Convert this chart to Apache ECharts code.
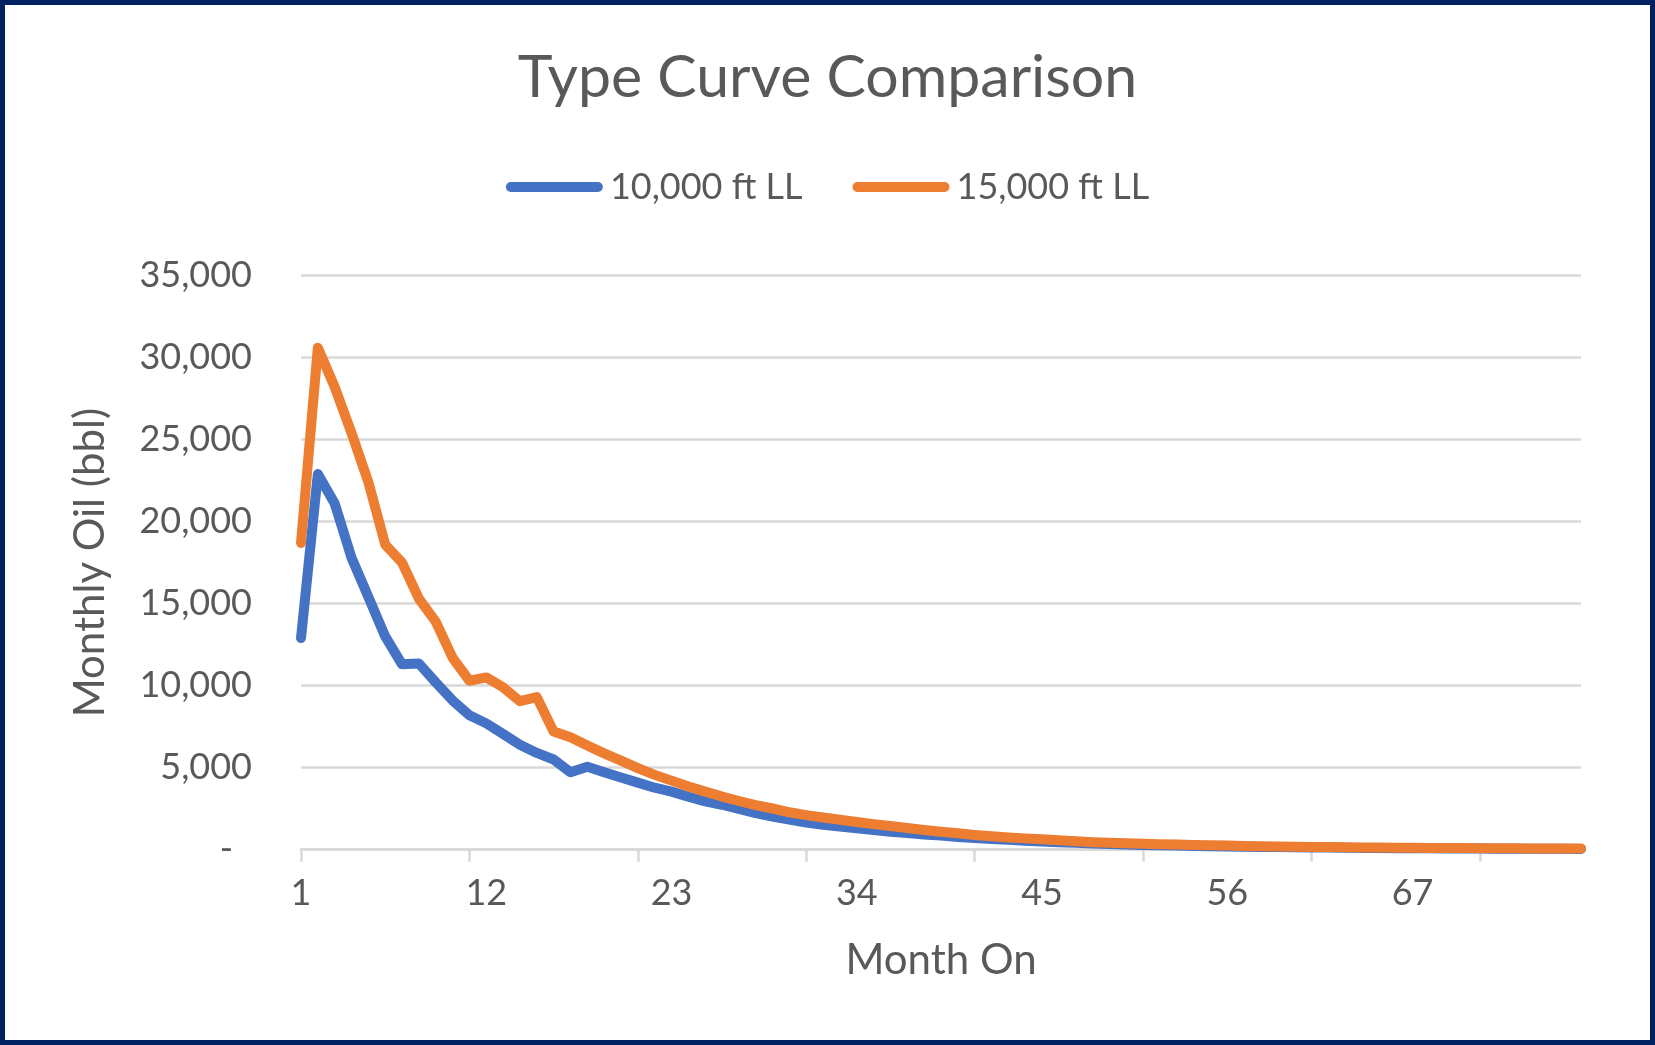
<!DOCTYPE html>
<html>
<head>
<meta charset="utf-8">
<title>Type Curve Comparison</title>
<script src="https://cdn.jsdelivr.net/npm/echarts@6/dist/echarts.min.js"></script>
<style>
    html, body { margin: 0; padding: 0; background: #ffffff; }
    #chart { width: 1655px; height: 1045px; }
</style>
</head>
<body>
<div id="chart"></div>
<script>
// month on (category axis)
var months = [
    1, 2, 3, 4, 5, 6, 7, 8, 9, 10, 11, 12, 13, 14, 15, 16, 17, 18, 19, 20,
    21, 22, 23, 24, 25, 26, 27, 28, 29, 30, 31, 32, 33, 34, 35, 36, 37, 38, 39, 40,
    41, 42, 43, 44, 45, 46, 47, 48, 49, 50, 51, 52, 53, 54, 55, 56, 57, 58, 59, 60,
    61, 62, 63, 64, 65, 66, 67, 68, 69, 70, 71, 72, 73, 74, 75, 76, 77
];

// monthly oil, bbl
var oil10k = [
    12900, 22900, 21100, 17800, 15400, 13000, 11300, 11350, 10200, 9100,
    8200, 7700, 7050, 6400, 5900, 5500, 4720, 5050, 4720, 4400,
    4090, 3780, 3540, 3230, 2950, 2740, 2480, 2230, 2020, 1830,
    1660, 1520, 1410, 1300, 1200, 1100, 1010, 930, 860, 780,
    710, 650, 600, 550, 500, 460, 420, 380, 350, 320,
    290, 270, 250, 230, 210, 190, 180, 170, 160, 150,
    140, 130, 120, 110, 100, 95, 90, 85, 80, 75,
    70, 65, 60, 58, 55, 52, 50
];

var oil15k = [
    18700, 30600, 28200, 25400, 22400, 18600, 17500, 15300, 13900, 11700,
    10300, 10500, 9900, 9050, 9300, 7200, 6850, 6350, 5870, 5430,
    4970, 4560, 4210, 3850, 3540, 3240, 2970, 2720, 2510, 2280,
    2110, 1960, 1830, 1690, 1560, 1440, 1320, 1200, 1100, 1000,
    900, 820, 750, 690, 630, 570, 510, 460, 420, 390,
    360, 330, 310, 290, 270, 250, 230, 215, 200, 185,
    170, 160, 150, 140, 130, 120, 115, 110, 105, 100,
    95, 90, 85, 80, 78, 75, 72
];

var seriesNames = ['10,000 ft LL', '15,000 ft LL'];

var textColor = '#595959';
var gridColor = '#d9d9d9';
var font = 'Lato';

// legend swatch: a thick line with round ends
var legendIcon = 'path://M5,0L92,0A5,5,0,0,1,92,10L5,10A5,5,0,0,1,5,0Z';

var myChart = echarts.init(document.getElementById('chart'));

myChart.setOption({
    animation: false,
    backgroundColor: '#ffffff',
    title: {
        text: 'Type Curve Comparison',
        left: 'center',
        top: 48,
        padding: 0,
        textStyle: {
            fontFamily: font,
            fontSize: 59,
            fontWeight: 'normal',
            color: textColor
        }
    },
    legend: {
        data: seriesNames,
        top: 169,
        left: 'center',
        padding: 0,
        itemGap: 50,
        itemWidth: 97,
        itemHeight: 10,
        icon: legendIcon,
        textStyle: {
            fontFamily: font,
            fontSize: 36,
            color: textColor,
            padding: [0, 0, 0, 2]
        }
    },
    grid: {
        left: 301,
        right: 74,
        top: 275.5,
        bottom: 195.3,
        containLabel: false
    },
    xAxis: {
        type: 'category',
        data: months,
        boundaryGap: false,
        name: 'Month On',
        nameLocation: 'middle',
        nameGap: 90,
        nameTextStyle: {
            fontFamily: font,
            fontSize: 42,
            color: textColor
        },
        axisLine: { lineStyle: { color: gridColor, width: 2.5 } },
        axisTick: {
            show: true,
            interval: 9,
            length: 12,
            lineStyle: { color: gridColor, width: 2.5 }
        },
        axisLabel: {
            interval: 10,
            margin: 26,
            fontFamily: font,
            fontSize: 36,
            color: textColor
        },
        splitLine: { show: false }
    },
    yAxis: {
        type: 'value',
        min: 0,
        max: 35000,
        interval: 5000,
        name: 'Monthly Oil (bbl)',
        nameLocation: 'middle',
        nameGap: 190,
        nameTextStyle: {
            fontFamily: font,
            fontSize: 42,
            color: textColor
        },
        axisLine: { show: false },
        axisTick: { show: false },
        axisLabel: {
            margin: 49,
            fontFamily: font,
            fontSize: 36,
            color: textColor,
            formatter: function (v) {
                if (v === 0) {
                    return '{z|-}';
                }
                return v.toLocaleString('en-US');
            },
            rich: {
                z: {
                    fontFamily: font,
                    fontSize: 36,
                    color: textColor,
                    padding: [0, 19, 0, 0]
                }
            }
        },
        splitLine: { lineStyle: { color: gridColor, width: 2.5 } }
    },
    series: [
        {
            name: seriesNames[0],
            type: 'line',
            data: oil10k,
            symbol: 'none',
            color: '#4472c4',
            lineStyle: { width: 10, color: '#4472c4', cap: 'round', join: 'round' }
        },
        {
            name: seriesNames[1],
            type: 'line',
            data: oil15k,
            symbol: 'none',
            color: '#ed7d31',
            lineStyle: { width: 10, color: '#ed7d31', cap: 'round', join: 'round' }
        }
    ],
    // dark frame round the whole picture
    graphic: [{
        type: 'rect',
        silent: true,
        z: 100,
        shape: { x: 2.5, y: 2.5, width: 1650, height: 1040 },
        style: { fill: 'none', stroke: '#002060', lineWidth: 5 }
    }]
});
</script>
</body>
</html>
